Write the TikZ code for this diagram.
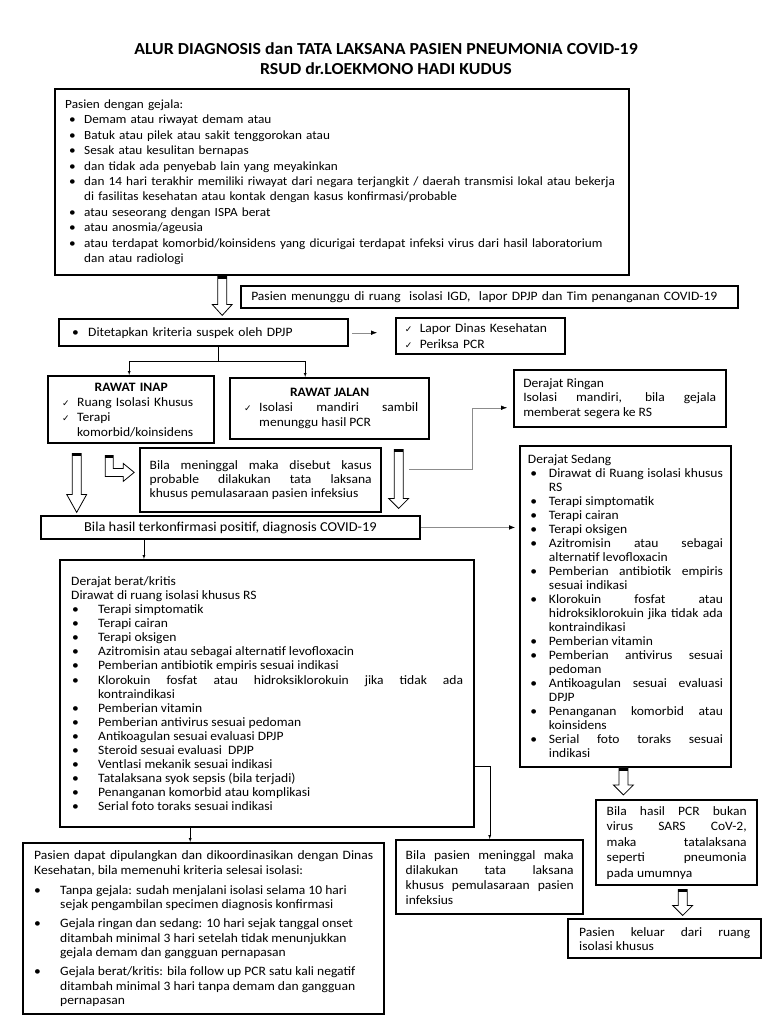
\documentclass[tikz,border=0pt]{standalone}
\usepackage{fontspec}
\setmainfont{Carlito}[FakeStretch=1.06]
\newfontfamily\checkfont{DejaVu Sans}
\usetikzlibrary{arrows, arrows.meta, calc, positioning}
\hyphenpenalty=10000
\exhyphenpenalty=10000
\tolerance=10000
\tikzset{
    boxThick/.style={draw, rectangle, line width=2.4pt, inner sep=0pt, anchor=north west},
    boxMid/.style={boxThick, line width=1.9pt},
    boxThin/.style={boxThick, line width=1.5pt},
    lead/.style={font=\fontsize{12.8}{#1}\selectfont},
    flowEdge/.style={->, >=latex, thin},
    grayEdge/.style={-{Latex[color=black, length=6pt, width=4.5pt]}, draw=black!45, thin},
    blockArrow/.style={draw, fill=white, line width=0.8pt},
}
\newcommand{\chkmark}{{\checkfont\fontsize{9}{9}\selectfont ✓}}
% #2 = left margin of the item text, #3 = offset of the bullet
\newenvironment{boxList}[3][\textbullet]{%
    \begin{list}{#1}{\setlength{\leftmargin}{#2}\setlength{\labelwidth}{8pt}%
    \setlength{\labelsep}{\dimexpr#2-#3-8pt\relax}\setlength{\itemsep}{0pt}\setlength{\parsep}{0pt}%
    \setlength{\topsep}{0pt}\setlength{\partopsep}{0pt}\setlength{\itemindent}{0pt}%
    \renewcommand{\makelabel}[1]{##1\hfil}}}%
    {\end{list}}
\newcommand{\blockDown}[3][11]{
    \draw[blockArrow] #2 ++(-4.5,0) -- ++(9,0) -- ++(0,{#3-#1}) -- ++(5.5,0) -- ++(-10,#1) -- ++(-10,-#1) -- ++(5.5,0) -- cycle;
    \fill #2 ++(-4.5,0) rectangle ++(9,3);
}

\begin{document}
\begin{tikzpicture}[x=1pt, y=-1pt]

    \path[fill=white] (0,0) rectangle (768,1024);
    \useasboundingbox (0,0) rectangle (768,1024);

    \node[font=\bfseries\fontsize{16.8}{20}\selectfont, align=center] (title) at (386,59)
        {ALUR DIAGNOSIS dan TATA LAKSANA PASIEN PNEUMONIA COVID-19\\RSUD dr.LOEKMONO HADI KUDUS};

    % gejala awal
    \node[boxThick, font=\fontsize{12.5}{15.4}\selectfont, minimum width=574pt, minimum height=186pt, text width=554pt, align=left] (gejala) at (54,88) {
        Pasien dengan gejala:
        \begin{boxList}{19pt}{4pt}
        \item Demam atau riwayat demam atau
        \item Batuk atau pilek atau sakit tenggorokan atau
        \item Sesak atau kesulitan bernapas
        \item dan tidak ada penyebab lain yang meyakinkan
        \item dan 14 hari terakhir memiliki riwayat dari negara terjangkit / daerah transmisi lokal atau bekerja\newline di fasilitas kesehatan atau kontak dengan kasus konfirmasi/probable
        \item atau seseorang dengan ISPA berat
        \item atau anosmia/ageusia
        \item atau terdapat komorbid/koinsidens yang dicurigai terdapat infeksi virus dari hasil laboratorium\newline dan atau radiologi
        \end{boxList}};

    \node[boxThin, lead=15, minimum width=497pt, minimum height=22pt, text width=476pt, align=left] (menunggu) at (240,285)
        {Pasien menunggu di ruang \ isolasi IGD, \ lapor DPJP dan Tim penanganan COVID-19};

    \node[boxThick, lead=15, minimum width=289pt, minimum height=27pt, text width=267pt, align=left] (suspek) at (58,318)
        {\hspace*{2pt}\makebox[16pt][l]{\textbullet}Ditetapkan kriteria suspek oleh DPJP};

    \node[boxThin, lead=16, minimum width=169pt, minimum height=36pt, text width=151pt, align=left] (lapor) at (395,317)
        {\makebox[15pt][l]{\chkmark}Lapor Dinas Kesehatan\\\makebox[15pt][l]{\chkmark}Periksa PCR};

    % rawat inap / rawat jalan
    \node[boxThick, lead=15, minimum width=166pt, minimum height=67pt, text width=146pt, align=left] (rawatInap) at (47,375) {
        {\centering\bfseries RAWAT INAP\par}
        \begin{boxList}[\chkmark]{19pt}{4pt}
        \item Ruang Isolasi Khusus
        \item Terapi\newline komorbid/koinsidens
        \end{boxList}};

    \node[boxThick, lead=15, minimum width=199pt, minimum height=61pt, text width=177pt, align=justify] (rawatJalan) at (229,377) {
        {\centering\bfseries RAWAT JALAN\par}
        \begin{boxList}[\chkmark]{18pt}{3pt}
        \item Isolasi mandiri sambil\linebreak menunggu hasil PCR
        \end{boxList}};

    \node[boxThin, lead=14.5, minimum width=212pt, minimum height=57pt, text width=193pt, align=justify] (ringan) at (513,369)
        {Derajat Ringan\\Isolasi mandiri, bila gejala\linebreak memberat segera ke RS};

    \node[boxThick, lead=14, minimum width=241pt, minimum height=64pt, text width=222pt, align=justify] (meninggalA) at (139,447)
        {Bila meninggal maka disebut kasus\linebreak probable dilakukan tata laksana\linebreak khusus pemulasaraan pasien infeksius};

    \node[boxMid, font=\fontsize{13.6}{15}\selectfont, minimum width=379pt, minimum height=23pt] (konfirmasi) at (40,515)
        {Bila hasil terkonfirmasi positif, diagnosis COVID-19};

    % derajat sedang
    \node[boxMid, lead=14, minimum width=211pt, minimum height=321pt, text width=195pt, align=justify] (sedang) at (519,445) {
        Derajat Sedang
        \begin{boxList}{21pt}{2.5pt}
        \item Dirawat di Ruang isolasi khusus\linebreak RS
        \item Terapi simptomatik
        \item Terapi cairan
        \item Terapi oksigen
        \item Azitromisin atau sebagai\linebreak alternatif levofloxacin
        \item Pemberian antibiotik empiris\linebreak sesuai indikasi
        \item Klorokuin fosfat atau\linebreak hidroksiklorokuin jika tidak ada\linebreak kontraindikasi
        \item Pemberian vitamin
        \item Pemberian antivirus sesuai\linebreak pedoman
        \item Antikoagulan sesuai evaluasi\linebreak DPJP
        \item Penanganan komorbid atau\linebreak koinsidens
        \item Serial foto toraks sesuai\linebreak indikasi
        \end{boxList}};

    % derajat berat
    \node[boxThick, lead=14.1, minimum width=414pt, minimum height=267pt, text width=392pt, align=justify] (berat) at (59,559) {
        Derajat berat/kritis\\Dirawat di ruang isolasi khusus RS
        \begin{boxList}{27pt}{1pt}
        \item Terapi simptomatik
        \item Terapi cairan
        \item Terapi oksigen
        \item Azitromisin atau sebagai alternatif levofloxacin
        \item Pemberian antibiotik empiris sesuai indikasi
        \item Klorokuin fosfat atau hidroksiklorokuin jika tidak ada\linebreak kontraindikasi
        \item Pemberian vitamin
        \item Pemberian antivirus sesuai pedoman
        \item Antikoagulan sesuai evaluasi DPJP
        \item Steroid sesuai evaluasi \ DPJP
        \item Ventlasi mekanik sesuai indikasi
        \item Tatalaksana syok sepsis (bila terjadi)
        \item Penanganan komorbid atau komplikasi
        \item Serial foto toraks sesuai indikasi
        \end{boxList}};

    \node[boxThick, lead=15.5, minimum width=161pt, minimum height=85pt, text width=140pt, align=justify] (bukanCovid) at (595,799)
        {Bila hasil PCR bukan\linebreak virus SARS CoV-2,\linebreak maka tatalaksana\linebreak seperti pneumonia\linebreak pada umumnya};

    \node[boxThick, lead=14, minimum width=193pt, minimum height=39pt, text width=171pt, align=justify] (keluar) at (567,918)
        {Pasien keluar dari ruang\linebreak isolasi khusus};

    \node[boxThick, lead=15, minimum width=187pt, minimum height=74pt, text width=168pt, align=justify] (meninggalB) at (395,839)
        {Bila pasien meninggal maka\linebreak dilakukan tata laksana\linebreak khusus pemulasaraan pasien\linebreak infeksius};

    % kriteria pulang
    \node[boxThick, lead=14.3, minimum width=361pt, minimum height=171pt, text width=339pt, align=justify] (pulang) at (22,842) {
        Pasien dapat dipulangkan dan dikoordinasikan dengan Dinas\linebreak Kesehatan, bila memenuhi kriteria selesai isolasi:\par
        \vspace{6pt}
        \begin{boxList}{26pt}{0pt}
        \setlength{\itemsep}{5pt}
        \item Tanpa gejala: sudah menjalani isolasi selama 10 hari\newline sejak pengambilan specimen diagnosis konfirmasi
        \item Gejala ringan dan sedang: 10 hari sejak tanggal onset\newline ditambah minimal 3 hari setelah tidak menunjukkan\newline gejala demam dan gangguan pernapasan
        \item Gejala berat/kritis: bila follow up PCR satu kali negatif\newline ditambah minimal 3 hari tanpa demam dan gangguan\newline pernapasan
        \end{boxList}};

    % panah blok
    \blockDown{([xshift=-120pt]gejala.south)}{39}
    \blockDown[18]{([xshift=-54.5pt, yshift=-9pt]rawatInap.south)}{59}
    \blockDown[10]{([xshift=69pt, yshift=-9pt]rawatJalan.south)}{59}
    \blockDown[10]{([xshift=-2pt]sedang.south)}{27}
    \blockDown[10]{([xshift=6pt, yshift=-3pt]bukanCovid.south)}{26}
    \draw[blockArrow] ([xshift=-26pt, yshift=-11pt]rawatInap.south) -- ++(8,0) -- ++(0,13) -- ++(10,0) -- ++(0,-5)
        -- ++(11,9) -- ++(-11,9) -- ++(0,-5) -- ++(-18,0) -- cycle;
    \fill ([xshift=-26pt, yshift=-11pt]rawatInap.south) rectangle ++(8,3);

    % panah
    \draw[grayEdge] ([xshift=3pt]suspek.east) -- ([xshift=-18pt]suspek.east -| lapor.west);
    \draw ([xshift=14.5pt]suspek.south) -- ++(0,14) coordinate (cabang);
    \draw[flowEdge] (cabang) -| ([xshift=-2pt]rawatInap.north);
    \draw[flowEdge] (cabang) -| ([xshift=-24.5pt]rawatJalan.north);
    \draw[grayEdge] ([xshift=27pt, yshift=11pt]meninggalA.east) -- ++(63,0) |- ([xshift=-6pt, yshift=-9.5pt]ringan.west);
    \draw[grayEdge] (konfirmasi.east) -- ([xshift=-4pt]konfirmasi.east -| sedang.west);
    \draw[flowEdge] ([xshift=-86.5pt]konfirmasi.south) -- ([xshift=-86.5pt]konfirmasi.south |- berat.north);
    \draw[flowEdge] ([xshift=-77pt]berat.south) -- ([xshift=-77pt]berat.south |- pulang.north);
    \draw[flowEdge] ([yshift=-72.5pt]berat.east) -| (meninggalB.north);

\end{tikzpicture}
\end{document}
